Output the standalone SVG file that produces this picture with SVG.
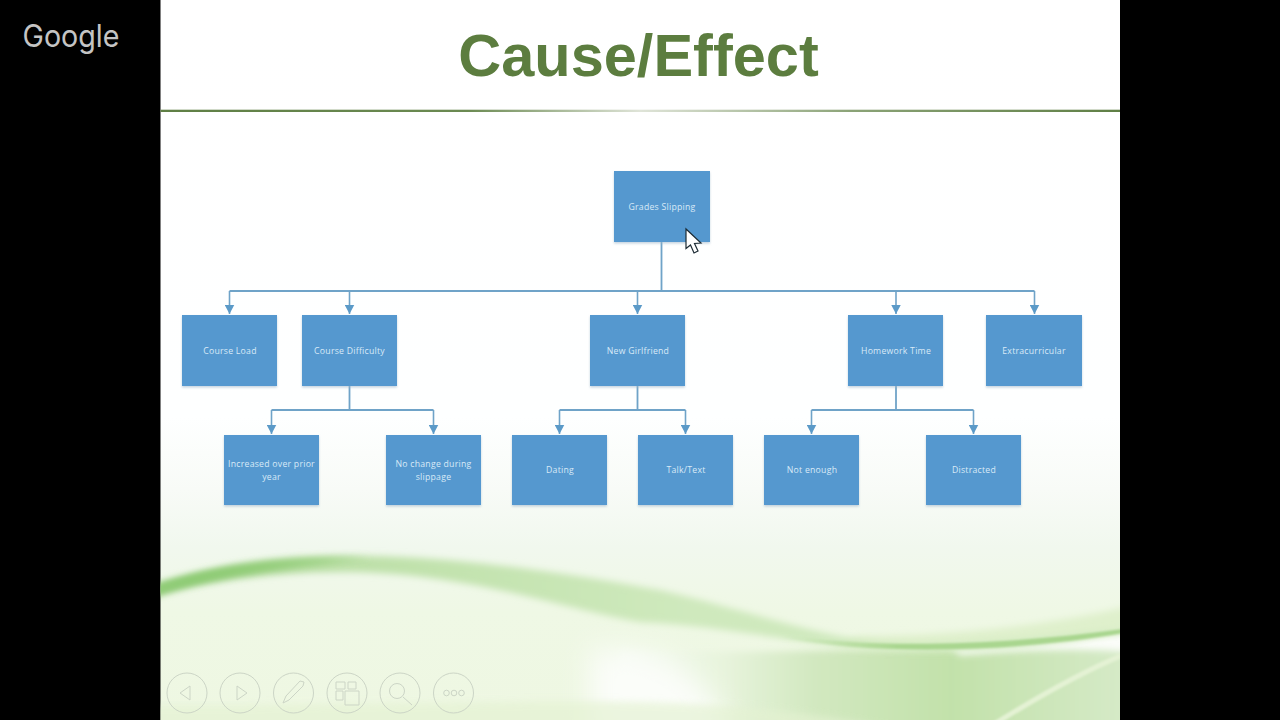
<svg xmlns="http://www.w3.org/2000/svg" width="1280" height="720" viewBox="0 0 1280 720">
<style>
.box{fill:#5598cf;filter:url(#sh)}
.lbl{font-family:"Open Sans","Liberation Sans",sans-serif;font-size:8.7px;fill:#d9eaf7;text-anchor:middle;letter-spacing:.25px}
.conn{fill:none;stroke:#6fa3c8;stroke-width:1.8}
.arr{fill:none;stroke:#6fa3c8;stroke-width:1.6;marker-end:url(#ah)}
.nav{fill:none;stroke:#ccd5c6;stroke-width:1}
</style>
<defs>
<marker id="ah" markerUnits="userSpaceOnUse" markerWidth="11" markerHeight="10" refX="9.500" refY="5" orient="auto"><path d="M0 0L9.500 5L0 10Z" fill="#5b9ac8"/></marker>
<linearGradient id="bg" x1="0" y1="0" x2="0" y2="1"><stop offset="0" stop-color="#fff"/><stop offset=".58" stop-color="#feffff"/><stop offset=".68" stop-color="#f8fbf7"/><stop offset=".76" stop-color="#f1f8ee"/><stop offset=".85" stop-color="#eff8e5"/><stop offset="1" stop-color="#eef7e2"/></linearGradient>
<linearGradient id="rule" x1="0" y1="0" x2="1" y2="0"><stop offset="0" stop-color="#5f7f45"/><stop offset=".32" stop-color="#6b8a52"/><stop offset=".5" stop-color="#dfe4d8"/><stop offset=".72" stop-color="#8ba377"/><stop offset="1" stop-color="#5f7f45"/></linearGradient>
<linearGradient id="w1" x1="0" y1="0" x2="1" y2="0"><stop offset="0" stop-color="#8cc873"/><stop offset=".2" stop-color="#bde0a8"/><stop offset=".55" stop-color="#cfe9bd"/><stop offset="1" stop-color="#cfe9bd"/></linearGradient>
<linearGradient id="low" gradientUnits="userSpaceOnUse" x1="620" y1="0" x2="1130" y2="0"><stop offset="0" stop-color="#f3faee"/><stop offset=".2" stop-color="#e8f4dd"/><stop offset=".38" stop-color="#d2e8c0"/><stop offset=".65" stop-color="#c2e1aa"/><stop offset="1" stop-color="#d6eac8"/></linearGradient>
<linearGradient id="thin" gradientUnits="userSpaceOnUse" x1="780" y1="0" x2="1120" y2="0"><stop offset="0" stop-color="#a9d68f" stop-opacity="0"/><stop offset=".35" stop-color="#a9d68f"/><stop offset="1" stop-color="#a9d68f"/></linearGradient>
<filter id="b1" filterUnits="userSpaceOnUse" x="100" y="480" width="1100" height="300"><feGaussianBlur stdDeviation="1.200"/></filter>
<filter id="b4" filterUnits="userSpaceOnUse" x="100" y="480" width="1100" height="300"><feGaussianBlur stdDeviation="3.500"/></filter>
<filter id="b8" filterUnits="userSpaceOnUse" x="100" y="480" width="1100" height="300"><feGaussianBlur stdDeviation="14"/></filter>
<filter id="sh" x="-5%" y="-5%" width="110%" height="115%"><feDropShadow dx="0" dy="1.500" stdDeviation="1.200" flood-color="#9db6c9" flood-opacity=".6"/></filter>
<clipPath id="slide"><rect x="160.500" y="0" width="959.500" height="720"/></clipPath>
</defs>
<rect width="1280" height="720" fill="#000"/>
<rect x="160.500" y="0" width="959.500" height="720" fill="url(#bg)"/>
<g id="background" clip-path="url(#slide)">
<path d="M620 650C700 655 820 650 960 648C1030 646 1090 636 1130 630V730H620Z" fill="url(#low)" filter="url(#b4)"/>
<path d="M625 650C670 655 715 680 730 740H590V650Z" fill="#fbfdf9" filter="url(#b8)"/>
<path d="M950 645C1020 643 1080 636 1130 632V652C1080 648 1020 650 960 655Z" fill="#fbfdf9" filter="url(#b4)"/>
<path d="M985 730C1040 695 1090 668 1130 652" fill="none" stroke="#e4f2d4" stroke-width="5" filter="url(#b1)"/>
<path d="M150 705C300 706 500 700 640 702C740 704 830 715 900 730H150Z" fill="#e4f2d2" filter="url(#b4)" opacity=".65"/>
<path d="M860 636C950 636 1050 625 1130 606V632C1040 645 930 654 830 646Z" fill="#dff0cc" filter="url(#b4)"/>
<path d="M150 590C230 556 320 552 420 558C520 565 590 578 660 590C730 606 800 630 860 640C920 648 1000 644 1130 628C1040 652 930 654 860 648C780 640 720 626 640 622C580 612 520 590 430 578C340 566 230 572 150 598Z" fill="url(#w1)" filter="url(#b4)"/>
<path d="M150 586C200 568 280 558 370 558C290 564 210 576 150 596Z" fill="#8ccb72" filter="url(#b4)"/>
<path d="M780 634C860 648 990 648 1130 628V632C1020 652 880 656 780 638Z" fill="url(#thin)" filter="url(#b1)"/>
</g>
<text x="71" y="47" font-family="Inter,Lato,sans-serif" font-weight="400" font-size="31" fill="#c4c4c4" text-anchor="middle" textLength="97" lengthAdjust="spacingAndGlyphs">Google</text>
<text x="638.500" y="76" font-family="'Liberation Sans',Arial,sans-serif" font-weight="700" font-size="59.500" fill="#5c7d3f" text-anchor="middle">Cause/Effect</text>
<rect x="160.500" y="109.700" width="959.500" height="2.300" fill="url(#rule)"/>
<g id="connectors">
<path class="conn" d="M661.500 242V291"/>
<path class="conn" d="M229.500 291H1034.500"/>
<path class="arr" d="M229.500 291V314"/>
<path class="arr" d="M349.500 291V314"/>
<path class="arr" d="M637.500 291V314"/>
<path class="arr" d="M896 291V314"/>
<path class="arr" d="M1034.500 291V314"/>
<path class="conn" d="M349.500 386V410"/>
<path class="conn" d="M271.500 410H433.500"/>
<path class="arr" d="M271.500 410V434"/>
<path class="arr" d="M433.500 410V434"/>
<path class="conn" d="M637.500 386V410"/>
<path class="conn" d="M559.500 410H685.500"/>
<path class="arr" d="M559.500 410V434"/>
<path class="arr" d="M685.500 410V434"/>
<path class="conn" d="M896 386V410"/>
<path class="conn" d="M811.500 410H973.500"/>
<path class="arr" d="M811.500 410V434"/>
<path class="arr" d="M973.500 410V434"/>
</g>
<g id="n-grades"><rect class="box" x="614" y="171" width="96" height="71"/><text class="lbl" x="662" y="210">Grades Slipping</text></g>
<g id="n-load"><rect class="box" x="182" y="315" width="95" height="71"/><text class="lbl" x="230" y="353.500">Course Load</text></g>
<g id="n-difficulty"><rect class="box" x="302" y="315" width="95" height="71"/><text class="lbl" x="349.500" y="353.500">Course Difficulty</text></g>
<g id="n-girlfriend"><rect class="box" x="590" y="315" width="95" height="71"/><text class="lbl" x="638" y="353.500">New Girlfriend</text></g>
<g id="n-homework"><rect class="box" x="848" y="315" width="95" height="71"/><text class="lbl" x="896" y="353.500">Homework Time</text></g>
<g id="n-extra"><rect class="box" x="986" y="315" width="96" height="71"/><text class="lbl" x="1034" y="353.500">Extracurricular</text></g>
<g id="n-increased"><rect class="box" x="224" y="435" width="95" height="70"/><text class="lbl" x="271.500" y="467">Increased over prior</text><text class="lbl" x="271.500" y="480">year</text></g>
<g id="n-nochange"><rect class="box" x="386" y="435" width="95" height="70"/><text class="lbl" x="433.500" y="467">No change during</text><text class="lbl" x="433.500" y="480">slippage</text></g>
<g id="n-dating"><rect class="box" x="512" y="435" width="95" height="70"/><text class="lbl" x="560" y="473">Dating</text></g>
<g id="n-talk"><rect class="box" x="638" y="435" width="95" height="70"/><text class="lbl" x="686" y="473">Talk/Text</text></g>
<g id="n-notenough"><rect class="box" x="764" y="435" width="95" height="70"/><text class="lbl" x="812" y="473">Not enough</text></g>
<g id="n-distracted"><rect class="box" x="926" y="435" width="95" height="70"/><text class="lbl" x="974" y="473">Distracted</text></g>
<g id="cursor"><path d="M686 229V248.500L690.500 245L694 253L698 251L694.500 243.500L701 243Z" fill="#fff" stroke="#1c2a33" stroke-width="1.200"/></g>
<g id="nav-controls">
<circle class="nav" cx="187" cy="693" r="20"/><path class="nav" d="M190 686V700L180 693Z"/>
<circle class="nav" cx="240" cy="693" r="20"/><path class="nav" d="M237 686V700L247 693Z"/>
<circle class="nav" cx="293.500" cy="693" r="20"/><path class="nav" d="M283 703L286 696L300 681L304 682L303 686L289 700Z"/>
<circle class="nav" cx="347" cy="693" r="20"/><path class="nav" d="M336 682H345V689H336ZM348 682H356V689H348ZM336 691H343V700H336ZM345 691H359V705H345Z"/>
<circle class="nav" cx="400" cy="693" r="20"/><circle class="nav" cx="397" cy="691" r="7.500"/><path class="nav" d="M403 697L412 705"/>
<circle class="nav" cx="453.500" cy="693" r="20"/><circle class="nav" cx="446.500" cy="693" r="2.800"/><circle class="nav" cx="454" cy="693" r="2.800"/><circle class="nav" cx="461.500" cy="693" r="2.800"/>
</g>
</svg>
